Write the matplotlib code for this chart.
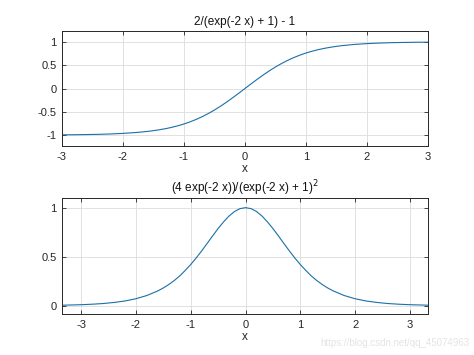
import matplotlib
matplotlib.use("Agg")
import matplotlib.pyplot as plt

plt.rcParams['font.family'] = ['Liberation Sans', 'DejaVu Sans']

# Top curve: 2/(exp(-2x)+1) - 1
x_top = [-3.0, -2.8, -2.6, -2.4, -2.2, -2.0, -1.8,
         -1.6, -1.5, -1.4, -1.3, -1.2, -1.1, -1.0, -0.9, -0.8, -0.7, -0.6, -0.5, -0.4, -0.3, -0.2, -0.1,
         0.0,
         0.1, 0.2, 0.3, 0.4, 0.5, 0.6, 0.7, 0.8, 0.9, 1.0, 1.1, 1.2, 1.3, 1.4, 1.5, 1.6,
         1.8, 2.0, 2.2, 2.4, 2.6, 2.8, 3.0]
y_top = [-0.995, -0.993, -0.989, -0.984, -0.976, -0.964, -0.947,
         -0.922, -0.905, -0.885, -0.862, -0.834, -0.800, -0.762, -0.716, -0.664, -0.604, -0.537,
         -0.462, -0.380, -0.291, -0.197, -0.0997,
         0.0,
         0.0997, 0.197, 0.291, 0.380, 0.462, 0.537, 0.604, 0.664, 0.716, 0.762, 0.800, 0.834,
         0.862, 0.885, 0.905, 0.922,
         0.947, 0.964, 0.976, 0.984, 0.989, 0.993, 0.995]

# Bottom curve: (4 exp(-2x))/(exp(-2x)+1)^2
x_bot = [-3.33, -3.2, -3.0, -2.8, -2.6, -2.4, -2.2, -2.0, -1.8,
         -1.6, -1.5, -1.4, -1.3, -1.2, -1.1, -1.0, -0.9, -0.8, -0.7, -0.6, -0.5, -0.4, -0.3, -0.2, -0.1,
         0.0,
         0.1, 0.2, 0.3, 0.4, 0.5, 0.6, 0.7, 0.8, 0.9, 1.0, 1.1, 1.2, 1.3, 1.4, 1.5, 1.6,
         1.8, 2.0, 2.2, 2.4, 2.6, 2.8, 3.0, 3.2, 3.33]
y_bot = [0.005, 0.007, 0.010, 0.015, 0.022, 0.033, 0.048, 0.071, 0.104,
         0.151, 0.181, 0.216, 0.257, 0.304, 0.360, 0.420, 0.487, 0.559, 0.635, 0.712, 0.787,
         0.855, 0.915, 0.961, 0.990,
         1.0,
         0.990, 0.961, 0.915, 0.855, 0.787, 0.712, 0.635, 0.559, 0.487, 0.420, 0.360, 0.304,
         0.257, 0.216, 0.181, 0.151,
         0.104, 0.071, 0.048, 0.033, 0.022, 0.015, 0.010, 0.007, 0.005]

top_xticks = [-3, -2, -1, 0, 1, 2, 3]
top_yticks = [-1, -0.5, 0, 0.5, 1]
top_yticklabels = ['-1', '-0.5', '0', '0.5', '1']
bot_xticks = [-3, -2, -1, 0, 1, 2, 3]
bot_yticks = [0, 0.5, 1]
bot_yticklabels = ['0', '0.5', '1']

line_color = '#1a6fa8'
frame_color = '#262626'

fig = plt.figure(figsize=(4.74, 3.55), dpi=100)
ax1 = fig.add_axes([0.1308, 0.5887, 0.772, 0.324])
ax2 = fig.add_axes([0.1308, 0.1146, 0.772, 0.327])


def style(ax):
    for s in ax.spines.values():
        s.set_color(frame_color)
        s.set_linewidth(0.7)
    ax.tick_params(direction='in', length=3, width=0.6, colors=frame_color,
                   labelsize=8, top=True, right=True, pad=4)
    ax.grid(True, color='#dcdcdc', linewidth=0.6)
    ax.set_axisbelow(True)


ax1.plot(x_top, y_top, color=line_color, linewidth=0.8)
ax1.set_xlim(-3, 3)
ax1.set_ylim(-1.235, 1.235)
ax1.set_xticks(top_xticks)
ax1.set_xticklabels([str(t) for t in top_xticks])
ax1.set_yticks(top_yticks)
ax1.set_yticklabels(top_yticklabels)
ax1.set_title('2/(exp(-2 x) + 1) - 1', fontsize=8.5, pad=4, color='#111111')
ax1.set_xlabel('x', fontsize=8.5, labelpad=1, color=frame_color)
style(ax1)

ax2.plot(x_bot, y_bot, color=line_color, linewidth=0.8)
ax2.set_xlim(-3.35, 3.33)
ax2.set_ylim(-0.088, 1.096)
ax2.set_xticks(bot_xticks)
ax2.set_xticklabels([str(t) for t in bot_xticks])
ax2.set_yticks(bot_yticks)
ax2.set_yticklabels(bot_yticklabels)
ax2.set_title('(4 exp(-2 x))/(exp(-2 x) + 1)$^2$', fontsize=8.5, pad=4, color='#111111')
ax2.set_xlabel('x', fontsize=8.5, labelpad=1, color=frame_color)
style(ax2)

fig.text(0.99, 0.035, 'https://blog.csdn.net/qq_45074963', ha='right', va='center',
         fontsize=7, color='#e4e4e4')

fig.savefig('out.png', dpi=100, facecolor='white')
